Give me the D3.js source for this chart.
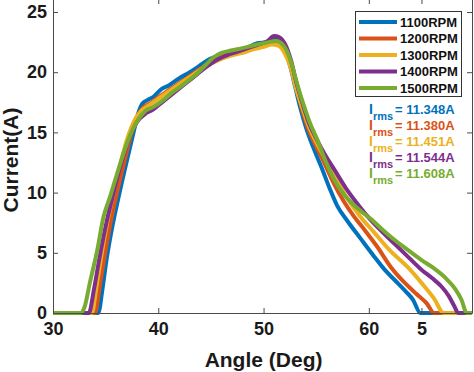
<!DOCTYPE html>
<html><head><meta charset="utf-8">
<script src="https://cdn.jsdelivr.net/npm/d3@7"></script>
<style>
body{margin:0;background:#fff;}
svg{display:block;font-family:"Liberation Sans",Arial,sans-serif;font-weight:bold;}
</style></head>
<body><svg id="chart" width="474" height="372"></svg>
<script>
const seriesNames = ["1100RPM","1200RPM","1300RPM","1400RPM","1500RPM"];
const colors = ["#0072BD","#D95319","#EDB120","#7E2F8E","#77AC30"];
const rmsLabels = ["= 11.348A","= 11.380A","= 11.451A","= 11.544A","= 11.608A"];
const xTickValues = [30,40,50,60,65];
const xTickLabels = ["30","40","50","60","5"];
const yTickValues = [0,5,10,15,20,25];

const rpm1100 = [[30,0],[34.3,0],[34.7,2],[35.1,4.5],[35.6,7],[36.2,9.5],[36.9,12.2],[37.6,14.8],[38.1,16.6],[38.5,17.4],[39.0,17.7],[39.6,18.0],[40.3,18.6],[41,18.9],[42,19.5],[43,20.0],[43.7,20.4],[44.5,20.9],[45.2,21.2],[46,21.3],[46.9,21.5],[47.8,21.7],[48.6,22.1],[49.4,22.4],[50.3,22.5],[51.0,22.7],[51.5,22.6],[52.0,22.0],[52.5,20.6],[53.0,18.8],[53.5,17.0],[54.1,15.2],[54.7,13.8],[55.5,12.1],[56.3,10.3],[57.0,8.9],[58.0,7.6],[59.2,6.2],[60.5,4.7],[61.5,3.6],[62.5,2.7],[63.5,1.8],[64.2,1.1],[64.9,0],[69.8,0]];
const rpm1200 = [[30,0],[34.0,0],[34.4,2],[34.9,4.7],[35.4,7.2],[36.0,9.7],[36.7,12.3],[37.4,14.7],[38.0,16.3],[38.5,17.0],[39.2,17.4],[40,17.9],[41,18.5],[42,19.1],[43,19.7],[44,20.3],[45,20.9],[46,21.3],[47,21.6],[48,21.8],[49,22.1],[50,22.3],[51,22.6],[51.6,22.5],[52.1,21.8],[52.6,20.5],[53.1,18.8],[53.6,17.1],[54.2,15.4],[54.9,14.0],[55.7,12.6],[56.6,10.9],[57.6,9.3],[58.6,8.0],[59.6,6.9],[60.8,5.5],[62.1,3.8],[63.3,2.6],[64.5,1.6],[65.5,0.8],[66.2,0],[69.8,0]];
const rpm1300 = [[30,0],[33.7,0],[34.1,2],[34.6,4.8],[35.1,7.3],[35.7,9.8],[36.4,12.4],[37.1,14.6],[37.8,16.1],[38.4,16.8],[39.2,17.3],[40,17.8],[41,18.4],[42,19.0],[43,19.6],[44,20.2],[45,20.7],[46,21.1],[47,21.4],[48,21.6],[49,21.9],[50,22.1],[50.8,22.3],[51.4,22.2],[52.0,21.6],[52.6,20.3],[53.1,18.6],[53.7,17.0],[54.3,15.5],[55,14.2],[55.8,12.9],[56.8,11.3],[57.9,9.6],[59.2,8.0],[60.5,6.7],[62,5.2],[63.7,3.8],[65,2.5],[66.2,1.2],[67.1,0],[69.8,0]];
const rpm1400 = [[30,0],[33.4,0],[33.9,2],[34.4,4.5],[35,7.2],[35.7,9.8],[36.5,12.5],[37.3,14.6],[38,15.9],[38.7,16.5],[39.5,16.9],[40.5,17.6],[41.5,18.3],[42.5,19.0],[43.5,19.7],[44.5,20.4],[45.5,21.0],[46.5,21.4],[47.5,21.7],[48.5,22.0],[49.5,22.3],[50.4,22.6],[51.0,23.0],[51.5,22.9],[52.0,22.4],[52.6,21.0],[53.1,19.2],[53.7,17.4],[54.3,15.8],[55,14.5],[55.8,13.2],[56.8,11.8],[57.8,10.4],[58.8,9.2],[59.9,8.0],[61.2,6.8],[62.5,5.7],[63.8,4.6],[65,3.6],[66,2.9],[66.9,2.2],[67.6,1.4],[68.1,0.6],[68.5,0],[69.8,0]];
const rpm1500 = [[30,0],[32.6,0],[33.0,0.5],[33.5,2.5],[34.2,5.2],[34.8,8.0],[35.4,9.6],[36.1,11.6],[36.8,13.5],[37.5,15.1],[38.2,16.2],[38.8,16.8],[39.5,17.1],[40.5,17.7],[41.3,18.3],[42.1,18.8],[43,19.4],[43.7,19.9],[44.5,20.6],[45.2,21.2],[46,21.6],[46.9,21.8],[48,22.0],[49.4,22.3],[50.5,22.5],[51.2,22.6],[51.7,22.4],[52.2,21.8],[52.7,20.6],[53.2,19.0],[53.8,17.3],[54.4,15.8],[55.1,14.4],[55.9,12.6],[56.7,11.1],[57.5,10.0],[58.3,9.2],[59.2,8.5],[60.2,7.8],[61.2,7.0],[62.4,6.1],[63.6,5.3],[65,4.4],[66.2,3.7],[67.3,2.9],[68.2,2.0],[68.8,1.1],[69.3,0],[69.8,0]];
const seriesData = [rpm1100, rpm1200, rpm1300, rpm1400, rpm1500];

const svg = d3.select("#chart");
const L = 53, R = 472, T = -1, B = 313;
const x = d3.scaleLinear().domain([30, 69.8]).range([L, R]);
const y = d3.scaleLinear().domain([0, 26.08]).range([B, T]);
const axisColor = "#4a4a4a";

// curves
const line = d3.line().x(d => x(d[0])).y(d => y(d[1])).curve(d3.curveMonotoneX);
seriesData.forEach((s, i) => {
  svg.append("path").attr("d", line(s)).attr("fill", "none")
    .attr("stroke", colors[i]).attr("stroke-width", 4)
    .attr("stroke-linejoin", "round").attr("stroke-linecap", "butt");
});

// axes
function styleAxis(g){
  g.select(".domain").attr("stroke", axisColor).attr("stroke-width", 1);
  g.selectAll(".tick line").attr("stroke", axisColor);
  g.selectAll(".tick text").attr("fill", "#1a1a1a")
    .style("font-size", "18px").style("font-weight", "bold")
    .style("font-family", '"Liberation Sans",Arial,sans-serif');
}
const labelOf = d => xTickLabels[xTickValues.indexOf(d)];
svg.append("g").attr("transform", `translate(0,${B})`)
  .call(d3.axisBottom(x).tickValues(xTickValues).tickFormat(labelOf).tickSizeInner(-5).tickSizeOuter(0).tickPadding(9))
  .call(styleAxis);
svg.append("g").attr("transform", `translate(0,${T})`)
  .call(d3.axisTop(x).tickValues(xTickValues).tickFormat("").tickSizeInner(-5).tickSizeOuter(0))
  .call(styleAxis);
svg.append("g").attr("transform", `translate(${L},0)`)
  .call(d3.axisLeft(y).tickValues(yTickValues).tickFormat(d3.format("d")).tickSizeInner(-5).tickSizeOuter(0).tickPadding(6))
  .call(styleAxis);
svg.append("g").attr("transform", `translate(${R},0)`)
  .call(d3.axisRight(y).tickValues(yTickValues).tickFormat("").tickSizeInner(-5).tickSizeOuter(0))
  .call(styleAxis);

// axis titles
svg.append("text").attr("x", x(50)).attr("y", 367).attr("text-anchor", "middle")
  .style("font-size", "21px").attr("fill", "#1a1a1a").text("Angle (Deg)");
svg.append("text").attr("transform", "translate(18,160) rotate(-90)").attr("text-anchor", "middle")
  .style("font-size", "21px").attr("fill", "#1a1a1a").text("Current(A)");

// legend
const lg = svg.append("g");
lg.append("rect").attr("x", 355.5).attr("y", 11.5).attr("width", 106).attr("height", 85)
  .attr("fill", "#fff").attr("stroke", "#333").attr("stroke-width", 1);
seriesNames.forEach((n, i) => {
  const cy = 22 + i * 16.5;
  lg.append("line").attr("x1", 359).attr("x2", 397).attr("y1", cy).attr("y2", cy)
    .attr("stroke", colors[i]).attr("stroke-width", 4);
  lg.append("text").attr("x", 400).attr("y", cy + 4.6).style("font-size", "13px")
    .attr("fill", "#111").text(n);
});

// Irms annotations
rmsLabels.forEach((t, i) => {
  const by = 114 + i * 16;
  const tx = svg.append("text").attr("x", 369).attr("y", by).attr("fill", colors[i]).style("font-size", "14px");
  tx.append("tspan").text("I");
  tx.append("tspan").attr("dy", 6).style("font-size", "11px").text("rms");
  svg.append("text").attr("x", 395).attr("y", by).attr("fill", colors[i]).style("font-size", "13px").text(t);
});
</script></body></html>
